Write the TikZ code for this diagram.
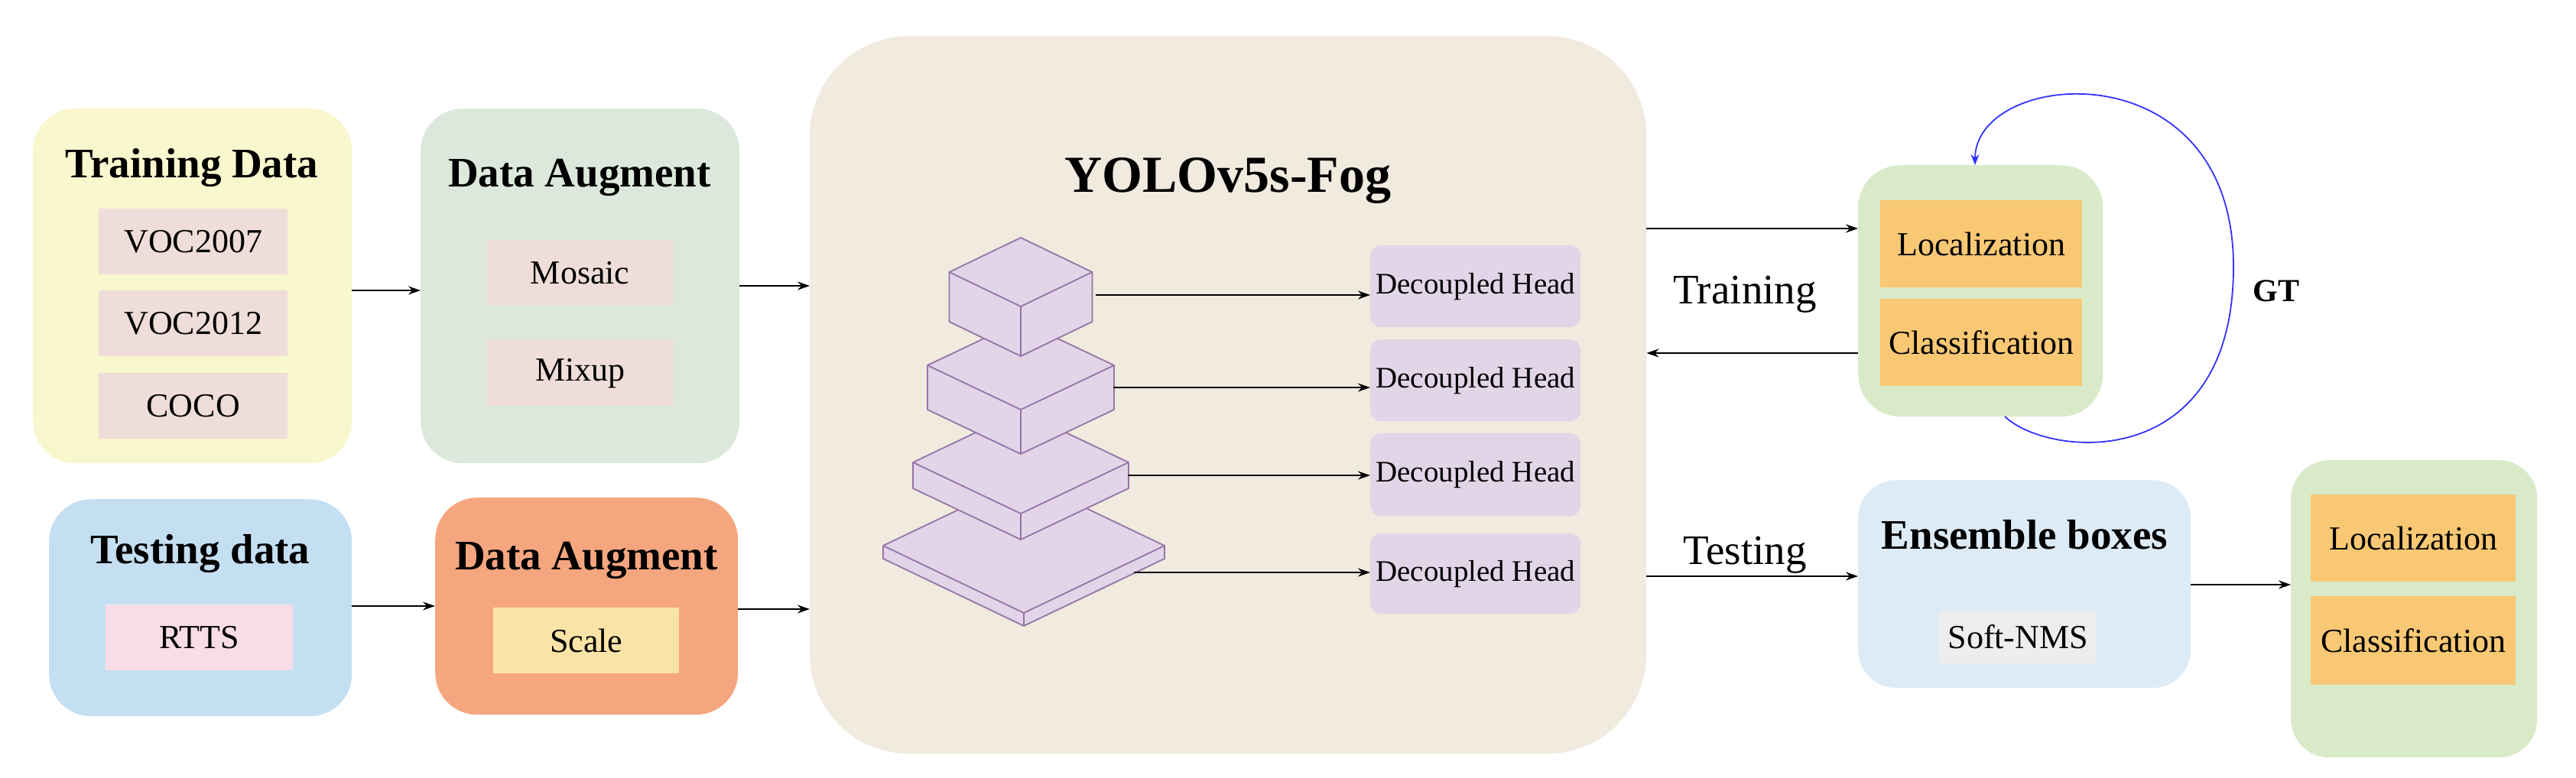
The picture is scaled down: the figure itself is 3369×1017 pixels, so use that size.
\documentclass[tikz,border=0pt]{standalone}
\usepackage{fontspec}
\setmainfont{Liberation Serif}
\usetikzlibrary{arrows.meta}
\definecolor{cyel}{HTML}{F8F7CD}
\definecolor{cgrn}{HTML}{DCE8DC}
\definecolor{cblu}{HTML}{C5DFF2}
\definecolor{corg}{HTML}{F5A67E}
\definecolor{cbei}{HTML}{F0EADF}
\definecolor{cpur}{HTML}{E1D5E7}
\definecolor{cpurd}{HTML}{9673A6}
\definecolor{clgr}{HTML}{D9EAC9}
\definecolor{cens}{HTML}{DCEBF6}
\definecolor{csal}{HTML}{EEDDD8}
\definecolor{cpink}{HTML}{F8DCE8}
\definecolor{cscl}{HTML}{F9E3A6}
\definecolor{corl}{HTML}{F8C874}
\tikzset{
 big/.style={rounded corners=55pt,draw=none},
 inner/.style={draw=none,inner sep=0pt,font=\fontsize{44}{48}\selectfont},
 ttl/.style={font=\fontsize{55}{60}\selectfont\bfseries},
 arr/.style={-{Stealth[length=16pt,width=11pt]},line width=1.8pt},
 cube/.style={fill=cpur,draw=cpurd,line width=1.8pt,line join=round},
}
\newcommand{\mybox}[6]{\node[#1,minimum width=#4-#2,minimum height=#5-#3,anchor=north west] (#6) at (#2,#3) {};}
\newcommand{\mycube}[5]{% cx, cy(left vertex), hw, hh, h
 \draw[cube] (#1-#3,#2) -- (#1,#2-#4) -- (#1+#3,#2) -- (#1+#3,#2+#5) -- (#1,#2+#4+#5) -- (#1-#3,#2+#5) -- cycle;
 \draw[cube,fill=none] (#1-#3,#2) -- (#1,#2+#4) -- (#1+#3,#2) (#1,#2+#4) -- (#1,#2+#4+#5);}
\begin{document}
\begin{tikzpicture}[x=1pt,y=-1pt]
\useasboundingbox (0,0) rectangle (3369,1017);
% training data
\mybox{big,fill=cyel}{43}{142}{460}{606}{td}
\node[ttl] at (251,219) {Training Data};
\mybox{inner,fill=csal}{129}{273}{376}{359}{v7}\node[inner] at (v7) {VOC2007};
\mybox{inner,fill=csal}{129}{380}{376}{466}{v12}\node[inner] at (v12) {VOC2012};
\mybox{inner,fill=csal}{129}{488}{376}{574}{coco}\node[inner] at (coco) {COCO};
% data augment
\mybox{big,fill=cgrn}{550}{142}{967}{606}{da}
\node[ttl] at (758,232) {Data Augment};
\mybox{inner,fill=csal}{636}{314}{881}{400}{mos}\node[inner] at (mos) {Mosaic};
\mybox{inner,fill=csal}{636}{445}{881}{531}{mix}\node[inner] at (mix) {Mixup};
% testing
\mybox{big,fill=cblu}{64}{653}{460}{937}{tst}
\node[ttl] at (262,724) {Testing data};
\mybox{inner,fill=cpink}{138}{791}{383}{877}{rt}\node[inner] at (rt) {RTTS};
\mybox{big,fill=corg}{569}{651}{965}{935}{da2}
\node[ttl] at (767,733) {Data Augment};
\mybox{inner,fill=cscl}{645}{795}{888}{881}{sc}\node[inner] at (sc) {Scale};
% yolo
\mybox{rounded corners=130pt,fill=cbei}{1059}{47}{2153}{986}{yolo}
\node[font=\fontsize{68}{74}\selectfont\bfseries] at (1606,236) {YOLOv5s-Fog};
\mycube{1339}{714}{184}{88}{17}
\mycube{1335}{605}{141}{67}{34}
\mycube{1335}{478}{122}{58}{58}
\mycube{1335}{356}{93.5}{45}{65}
\foreach \n/\a/\b in {h1/321/428,h2/444/551,h3/567/675,h4/698/803}{
 \mybox{inner,fill=cpur,rounded corners=14pt}{1792}{\a}{2067}{\b}{\n}
 \node[inner,font=\fontsize{39}{44}\selectfont] at (\n) {Decoupled Head};}
\coordinate (c1) at (1433,386);\coordinate (c2) at (1456,507);
\coordinate (c3) at (1475,622);\coordinate (c4) at (1483,749);
\draw[arr] (c1) -- (c1 -| h1.west);
\draw[arr] (c2) -- (c2 -| h2.west);
\draw[arr] (c3) -- (c3 -| h3.west);
\draw[arr] (c4) -- (c4 -| h4.west);
% training output
\mybox{big,fill=clgr,rounded corners=55pt}{2430}{216}{2750}{545}{tb}
\mybox{inner,fill=corl}{2459}{262}{2723}{376}{loc}\node[inner] at (loc) {Localization};
\mybox{inner,fill=corl}{2459}{391}{2723}{505}{cls}\node[inner] at (cls) {Classification};
\node[font=\fontsize{55}{60}\selectfont] at (2282,385) {Training};
\node[font=\fontsize{42}{46}\selectfont\bfseries] at (2977,381) {GT};
\coordinate (g0) at (2622,545);\coordinate (g1) at (2583,216);
\draw[-{Stealth[length=14pt,width=11pt]},blue!80!white,line width=1.8pt] (g0) .. controls (2680,600) and (2921,620) .. (2921,349) .. controls (2921,60) and (2583,90) .. (g1);
% testing output
\node[font=\fontsize{55}{60}\selectfont] at (2282,726) {Testing};
\mybox{big,fill=cens,rounded corners=50pt}{2430}{628}{2865}{900}{ens}
\node[ttl] at (2648,700) {Ensemble boxes};
\mybox{inner,fill=black!7}{2536}{799}{2742}{868}{snms}\node[inner] at (snms) {Soft-NMS};
\mybox{big,fill=clgr,rounded corners=50pt}{2996}{602}{3318}{991}{fb}
\mybox{inner,fill=corl}{3022}{647}{3290}{761}{loc2}\node[inner] at (loc2) {Localization};
\mybox{inner,fill=corl}{3022}{780}{3290}{896}{cls2}\node[inner] at (cls2) {Classification};
% arrows
\coordinate (a1) at (460,380);\draw[arr] (a1) -- (a1 -| da.west);
\coordinate (a2) at (967,374);\draw[arr] (a2) -- (a2 -| yolo.west);
\coordinate (a3) at (460,793);\draw[arr] (a3) -- (a3 -| da2.west);
\coordinate (a4) at (965,797);\draw[arr] (a4) -- (a4 -| yolo.west);
\coordinate (a5) at (2153,299);\draw[arr] (a5) -- (a5 -| tb.west);
\coordinate (a6) at (2430,462);\draw[arr] (a6) -- (a6 -| yolo.east);
\coordinate (a7) at (2153,754);\draw[arr] (a7) -- (a7 -| ens.west);
\coordinate (a8) at (2865,765);\draw[arr] (a8) -- (a8 -| fb.west);
\end{tikzpicture}
\end{document}
